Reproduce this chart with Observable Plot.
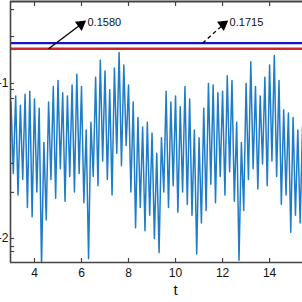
<!DOCTYPE html>
<html><head><meta charset="utf-8">
<script src="https://cdn.jsdelivr.net/npm/d3@7"></script>
<script src="https://cdn.jsdelivr.net/npm/@observablehq/plot@0.6"></script>
<style>body{margin:0;background:#fff} svg{display:block}</style>
</head><body><div id="c"></div>
<script>
// series values sampled every 0.1 in t, starting at t = 3.0
const tFirst = 3.0;
const tStep = 0.1;
const values = [
 -1.12,-1.58,-1.08,-1.72,-1.14,-1.62,-1.07,-1.80,-1.05,-1.86,
 -1.10,-1.70,-1.16,-2.17,-1.38,-1.88,-1.12,-1.62,-1.02,-1.74,
 -0.98,-1.55,-1.06,-1.76,-1.08,-1.60,-1.01,-1.70,-0.94,-1.58,
 -1.02,-1.77,-1.30,-2.13,-1.25,-1.60,-0.96,-1.66,-0.85,-1.50,
 -0.92,-1.62,-1.04,-1.72,-0.90,-1.45,-0.80,-1.53,-0.88,-1.40,
 -1.01,-1.70,-1.12,-1.93,-1.22,-1.80,-1.28,-1.95,-1.25,-1.85,
 -1.32,-2.00,-1.45,-2.09,-1.35,-1.70,-1.05,-1.80,-1.12,-1.66,
 -1.08,-1.83,-1.15,-1.70,-1.02,-1.78,-1.10,-1.85,-1.30,-2.10,
 -1.35,-1.90,-1.16,-1.82,-1.00,-1.65,-1.01,-1.77,-1.06,-1.60,
 -1.05,-1.72,-0.95,-1.57,-0.98,-1.76,-1.25,-2.14,-1.38,-1.82,
 -1.00,-1.62,-0.86,-1.55,-1.02,-1.68,-1.08,-1.52,-0.96,-1.66,
 -0.88,-1.50,-0.82,-1.60,-0.98,-1.78,-1.17,-1.72,-1.19,-1.96,
 -1.22,-1.85,-1.30,-1.90,-1.28
];
const xTicks = [4, 6, 8, 10, 12, 14];
const yTicks = [-1, -2];
const yMinorTicks = [-0.523, -0.697, -1.039, -1.097, -1.516, -1.703, -2.052, -2.084];
const levelBlue = -0.74;
const levelRed = -0.776;
const arrowLabels = ["0.1580", "0.1715"];
const arrowX1 = [4.60, 11.15];
const arrowY1 = [-0.776, -0.74];
const arrowX2 = [6.085, 12.13];
const arrowY2 = [-0.606, -0.606];
const xLabel = "t";

const series = values.map((v, i) => ({t: tFirst + i * tStep, v}));
const arrows = arrowLabels.map((label, i) => ({label, x1: arrowX1[i], y1: arrowY1[i], x2: arrowX2[i], y2: arrowY2[i]}));

const W = 302, H = 302, ML = 10, MR = 0, MT = 1, MB = 40;
const plotW = W - ML - MR, plotH = H - MT - MB;
const frameColor = "#444";
const font = "Liberation Sans, Arial, sans-serif";

const chart = Plot.plot({
  width: W, height: H,
  marginLeft: ML, marginRight: MR, marginTop: MT, marginBottom: MB,
  style: {fontFamily: font, fontSize: "12px", color: "#111", background: "#fff"},
  x: {domain: [2.98, 15.40], ticks: xTicks, tickSize: 0, tickPadding: 6, label: null},
  y: {domain: [-2.155, -0.471], ticks: yTicks, tickSize: 0, tickPadding: 2, tickFormat: d => String(d), label: null},
  marks: [
    Plot.line(series, {x: "t", y: "v", stroke: "#1f7cc6", strokeWidth: 1.5, clip: true}),
    Plot.ruleY([levelBlue], {stroke: "#1414c8", strokeWidth: 2.3}),
    Plot.ruleY([levelRed], {stroke: "#d02828", strokeWidth: 2.3}),
    Plot.link([arrows[0]], {x1: "x1", y1: "y1", x2: "x2", y2: "y2", stroke: "#000", strokeWidth: 1.3}),
    Plot.link([arrows[1]], {x1: "x1", y1: "y1", x2: "x2", y2: "y2", stroke: "#000", strokeWidth: 1.3, strokeDasharray: "4,3"}),
    Plot.dot(arrows, {x: "x2", y: "y2", symbol: "triangle", r: 4.2, fill: "#000", stroke: "none", rotate: 53, dx: -2.6, dy: 2}),
    Plot.text(arrows, {x: "x2", y: "y2", text: "label", textAnchor: "start", dx: 4, dy: 0, fontSize: 11, fill: "#111"}),
    // frame lines
    Plot.ruleX([2.98], {stroke: frameColor, strokeWidth: 1.6}),
    Plot.ruleY([-2.155], {stroke: frameColor, strokeWidth: 1.6}),
    Plot.ruleY([-0.471], {stroke: frameColor, strokeWidth: 2}),
    // inward ticks
    Plot.tickX(xTicks, {x: d => d, stroke: frameColor, strokeWidth: 1.2, insetTop: plotH - 4}),
    Plot.tickX(xTicks, {x: d => d, stroke: frameColor, strokeWidth: 1.2, insetBottom: plotH - 5}),
    Plot.tickY(yTicks.concat(yMinorTicks), {y: d => d, stroke: frameColor, strokeWidth: 1.2, insetRight: plotW - 4}),
    Plot.text([xLabel], {x: 10, frameAnchor: "bottom", dy: 32, fontSize: 15, fill: "#111"})
  ]
});
document.getElementById("c").appendChild(chart);
</script>
</body></html>
